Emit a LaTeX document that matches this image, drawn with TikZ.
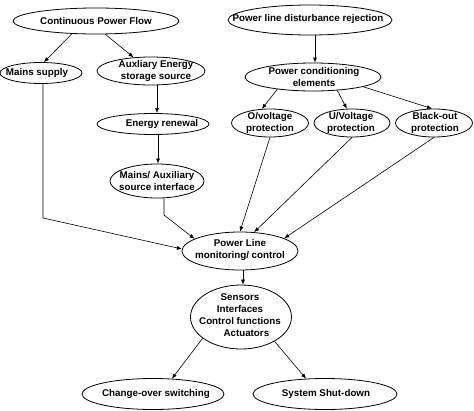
\documentclass[tikz,border=0pt]{standalone}
\usepackage{fontspec}
\setmainfont{Liberation Sans}
\usetikzlibrary{shapes.geometric,arrows.meta}
\begin{document}
\begin{tikzpicture}[x=1pt,y=-1pt,
  ell/.style={draw, ellipse, line width=0.8pt, inner sep=0pt},
  txt/.style={inner sep=0pt, align=center, font=\fontsize{9.8}{12}\selectfont\bfseries},
  arr/.style={line width=0.6pt, -{Latex[length=5pt,width=4pt]}},
  ln/.style={line width=0.6pt}]
\useasboundingbox (0,0) rectangle (474,410);
% ellipses
\node[ell, minimum width=166pt, minimum height=26pt] (cpf) at (96,21) {};
\node[ell, minimum width=82pt, minimum height=21pt] (ms) at (41,73) {};
\node[ell, minimum width=108pt, minimum height=28pt] (aux) at (151,71) {};
\node[ell, minimum width=112pt, minimum height=21pt] (er) at (153,124) {};
\node[ell, minimum width=94pt, minimum height=34pt] (ma) at (157,181) {};
\node[ell, minimum width=164pt, minimum height=30pt] (pldr) at (310,20) {};
\node[ell, minimum width=136pt, minimum height=28pt] (pce) at (313,77) {};
\node[ell, minimum width=77pt, minimum height=28pt] (ov) at (270,123) {};
\node[ell, minimum width=76pt, minimum height=28pt] (uv) at (352,123) {};
\node[ell, minimum width=77pt, minimum height=28pt] (bo) at (434,123) {};
\node[ell, minimum width=116pt, minimum height=38pt] (plm) at (240,251) {};
\node[ell, minimum width=101pt, minimum height=64pt] (sen) at (241,317) {};
\node[ell, minimum width=142pt, minimum height=31pt] (co) at (153,394) {};
\node[ell, minimum width=144pt, minimum height=31pt] (sd) at (325,394) {};
% texts
\node[txt] (cpf-t) at (96,21) {Continuous Power Flow};
\node[txt] (ms-t) at (37,73) {Mains supply};
\node[txt] (aux-t) at (156,71) {Auxliary Energy\\storage source};
\node[txt] (er-t) at (162,124) {Energy renewal};
\node[txt] (ma-t) at (157,181) {Mains/ Auxiliary\\source interface};
\node[txt] (pldr-t) at (308,19) {Power line disturbance rejection};
\node[txt] (pce-t) at (314,77) {Power conditioning\\elements};
\node[txt] (ov-t) at (270,123) {O/voltage\\protection};
\node[txt] (uv-t) at (351,123) {U/Voltage\\protection};
\node[txt] (bo-t) at (435,123) {Black-out\\protection};
\node[txt] (plm-t) at (240,250) {Power Line\\monitoring/ control};
\node[txt] (sen-t) at (240,315) {Sensors\\Interfaces\\Control functions\\\hspace*{1.3em}Actuators};
\node[txt] (co-t) at (156,394) {Change-over switching};
\node[txt] (sd-t) at (326,394) {System Shut-down};
% bend points
\coordinate (b1) at (43,218);
\coordinate (b2) at (164,215);
% connectors
\draw[arr] (cpf.208) -- (ms.75);
\draw[arr] (cpf.305) -- (aux.142);
\draw[arr] ([xshift=6pt]aux.south) -- ([xshift=4pt]er.north);
\draw[arr] ([xshift=5pt]er.south) -- ([xshift=1pt]ma.north);
\draw[arr] ([xshift=2pt]ms.south) -- (b1) -- (plm.178);
\draw[arr] (b2 |- ma.south) -- (b2) -- (plm.165);
\draw[arr] ([xshift=5pt]pldr.south) -- ([xshift=2pt]pce.north);
\draw[arr] (pce.199) -- (ov.120);
\draw[arr] (pce.331) -- (uv.110);
\draw[arr] (pce.349) -- (bo.98);
\draw[arr] (ov.south) -- (plm.90);
\draw[arr] (uv.south) -- (plm.53);
\draw[arr] (bo.south) -- (plm.16);
\draw[arr] ([xshift=3pt]plm.south) -- ([xshift=2pt]sen.north);
\draw[arr] (sen.209) -- (co.39);
\draw[arr] (sen.324) -- (sd.141);
\end{tikzpicture}
\end{document}
